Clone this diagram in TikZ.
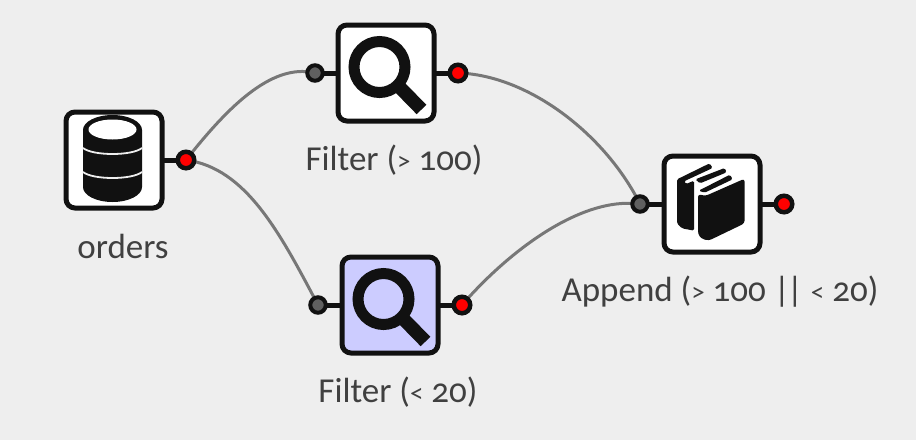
\documentclass[tikz,border=0pt]{standalone}
\usetikzlibrary{backgrounds}
\usepackage{fontspec}
\setmainfont[Numbers=OldStyle]{Carlito}
\definecolor{bgc}{HTML}{EEEEEE}
\definecolor{ink}{HTML}{111111}
\definecolor{wire}{HTML}{777777}
\definecolor{inport}{HTML}{606060}
\definecolor{sel}{HTML}{CCCCFF}
\tikzset{
  opbox/.style={draw=ink,line width=5pt,fill=white,rounded corners=9pt,minimum width=96pt,minimum height=96pt,inner sep=0pt,outer sep=0pt},
  selbox/.style={opbox,fill=sel},
  outport/.style={circle,draw=ink,line width=4.5pt,fill=red,minimum size=16.5pt,inner sep=0pt,outer sep=0pt},
  inputport/.style={circle,draw=ink,line width=4pt,fill=inport,minimum size=15.5pt,inner sep=0pt,outer sep=0pt},
  stub/.style={draw=ink,line width=5pt},
  edge/.style={draw=wire,line width=3pt},
  lab/.style={font=\fontsize{35}{35}\selectfont,text=black!75,inner sep=0pt},
}
\newcommand{\lensicon}[2]{%
  \begin{scope}[shift={(#1,#2)}]
    \draw[ink,line width=11pt] (0,0) circle (25.5pt);
    \draw[ink,line width=13.5pt] (18,18) -- (42,42.5);
  \end{scope}}
\newcommand{\tinysign}[1]{{\fontsize{27}{27}\selectfont #1}}
\begin{document}
\begin{tikzpicture}[x=1pt,y=-1pt]
\useasboundingbox (0,0) rectangle (916,440);
% boxes
\node[opbox] (ord) at (114,160) {};
\node[opbox] (fa) at (386,73) {};
\node[selbox] (fb) at (390,305) {};
\node[opbox] (app) at (712,204) {};
% ports
\node[outport] (ordo) at (186,160) {};
\node[inputport] (fai) at (315,73) {};
\node[outport] (fao) at (458,73) {};
\node[inputport] (fbi) at (318,305) {};
\node[outport] (fbo) at (462,305) {};
\node[inputport] (appi) at (640,204) {};
\node[outport] (appo) at (784,204) {};
\begin{pgfonlayer}{background}
\fill[bgc] (0,0) rectangle (916,440);
% edges
\draw[edge] (ordo.center) .. controls +(38,-48) and +(-45,-11) .. (fai.center);
\draw[edge] (ordo.center) .. controls +(60,8) and +(-38,-72) .. (fbi.center);
\draw[edge] (fao.center) .. controls +(70,2) and +(-35,-70) .. (appi.center);
\draw[edge] (fbo.center) .. controls +(45,-52) and +(-60,-8) .. (appi.center);
% stubs
\draw[stub] (ord.east) -- (ordo.center);
\draw[stub] (fai.center) -- (fa.west);
\draw[stub] (fa.east) -- (fao.center);
\draw[stub] (fbi.center) -- (fb.west);
\draw[stub] (fb.east) -- (fbo.center);
\draw[stub] (appi.center) -- (app.west);
\draw[stub] (app.east) -- (appo.center);
\end{pgfonlayer}
% icons
\lensicon{379.5}{67}
\lensicon{383.5}{299}
% database
\fill[ink] (83,130) arc[start angle=180,end angle=0,x radius=29.5pt,y radius=15pt]
  -- (142,187) arc[start angle=0,end angle=-180,x radius=29.5pt,y radius=15pt] -- cycle;
\fill[white] (112.5,129.5) ellipse[x radius=24pt,y radius=10pt];
\draw[bgc,line width=1.8pt] (83,148) .. controls (93,156) and (132,156) .. (142,148);
\draw[bgc,line width=1.8pt] (83,172) .. controls (93,180) and (132,180) .. (142,172);
% books
\begin{scope}[shift={(672,160)},x=.3333pt,y=-.3333pt]
  \fill[ink,rounded corners=1.5pt] (15,58) -- (113,10) -- (122,24) -- (36,64) -- (42,72) -- (66,62) -- (66,212) -- (30,205) -- (15,190) -- cycle;
  \fill[ink,rounded corners=1.5pt] (70,58) -- (158,24) -- (164,37) -- (84,70) -- cycle;
  \fill[ink,rounded corners=1.5pt] (80,92) -- (174,44) -- (182,58) -- (98,98) -- cycle;
  \fill[ink,rounded corners=3pt] (78,102) -- (100,108) -- (218,56) -- (218,190) -- (110,242) -- (88,236) -- (78,222) -- cycle;
\end{scope}
% labels
\node[lab] (l1) at (123,246) {orders};
\node[lab] (l2) at (394,160.5) {Filter (\tinysign{>} 100)};
\node[lab] (l3) at (398,392.5) {Filter (\tinysign{<} 20)};
\node[lab] (l4) at (720,292) {Append (\tinysign{>} 100 |\kern-3pt| \tinysign{<} 20)};
\end{tikzpicture}
\end{document}
